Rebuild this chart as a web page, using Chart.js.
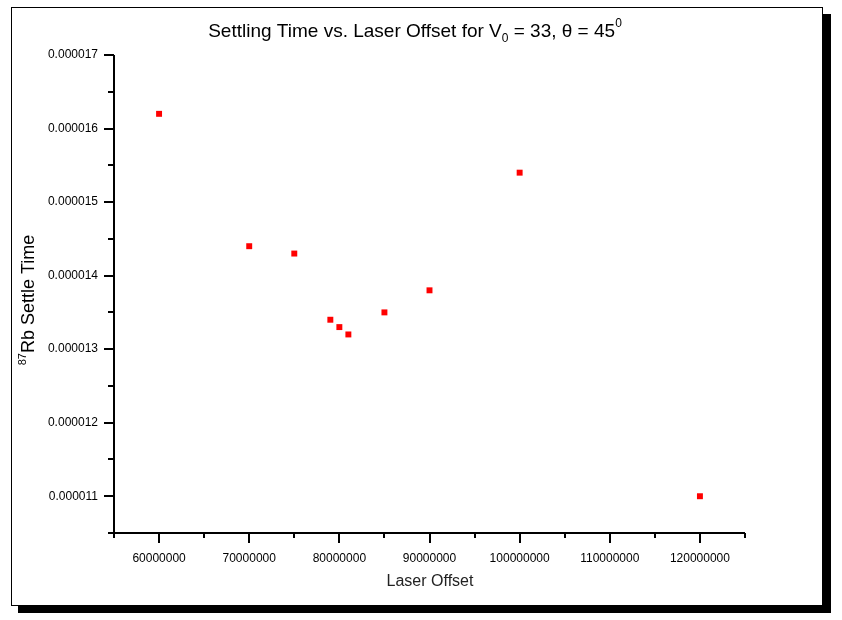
<!DOCTYPE html>
<html>
<head>
<meta charset="utf-8">
<script src="https://cdn.jsdelivr.net/npm/chart.js@4.4.1/dist/chart.umd.min.js"></script>
<style>
    html, body { margin: 0; padding: 0; background: #fff; }
    #wrap { width: 842px; height: 620px; position: relative; }
</style>
</head>
<body>
<div id="wrap"><canvas id="settleChart" width="842" height="620"></canvas></div>
<script>
// Data
const laserOffset = [60000000, 70000000, 75000000, 79000000, 80000000, 81000000, 85000000, 90000000, 100000000, 120000000];
const settleTime = [0.00001620, 0.00001440, 0.00001430, 0.00001340, 0.00001330, 0.00001320, 0.00001350, 0.00001380, 0.00001540, 0.00001100];

const xRange = [55000000, 125000000];
const xStep = 5000000;
const yRange = [0.0000105, 0.000017];
const yStep = 0.0000005;

const FONT = "'Liberation Sans', Arial, sans-serif";

// draw a run of text pieces [text, size, yShift] starting centred on cx
function drawRuns(ctx, parts, cx, baseY) {
    let total = 0;
    parts.forEach(p => { ctx.font = p[1] + 'px ' + FONT; total += ctx.measureText(p[0]).width; });
    let x = cx - total / 2;
    parts.forEach(p => {
        ctx.font = p[1] + 'px ' + FONT;
        ctx.fillText(p[0], x, baseY + p[2]);
        x += ctx.measureText(p[0]).width;
    });
}

// frame, shadow, axes with major/minor ticks, titles
const originStyle = {
    id: 'originStyle',
    beforeDraw(chart) {
        const ctx = chart.ctx;
        ctx.save();
        ctx.fillStyle = '#000';
        ctx.fillRect(18, 605, 813, 8);   // drop shadow bottom
        ctx.fillRect(822, 14, 9, 599);   // drop shadow right
        ctx.fillStyle = '#fff';
        ctx.fillRect(11, 7, 811, 598);
        ctx.strokeStyle = '#000';
        ctx.lineWidth = 1;
        ctx.strokeRect(11.5, 7.5, 811, 598);
        ctx.restore();
    },
    afterDraw(chart) {
        const ctx = chart.ctx;
        const area = chart.chartArea;
        const xs = chart.scales.x, ys = chart.scales.y;
        ctx.save();
        ctx.strokeStyle = '#000';
        ctx.lineWidth = 2;
        ctx.beginPath();
        ctx.moveTo(area.left, area.top);
        ctx.lineTo(area.left, area.bottom);
        ctx.lineTo(area.right, area.bottom);
        ctx.stroke();

        ctx.beginPath();
        xs.ticks.forEach(t => {
            const px = Math.round(xs.getPixelForValue(t.value));
            const major = Math.round(t.value / xStep) % 2 === 0;
            ctx.moveTo(px, area.bottom);
            ctx.lineTo(px, area.bottom + (major ? 10 : 5));
        });
        ys.ticks.forEach(t => {
            const py = Math.round(ys.getPixelForValue(t.value));
            const major = Math.round(t.value / yStep) % 2 === 0;
            ctx.moveTo(area.left, py);
            ctx.lineTo(area.left - (major ? 10 : 6), py);
        });
        ctx.stroke();

        ctx.fillStyle = '#000';
        ctx.textBaseline = 'alphabetic';
        ctx.textAlign = 'left';
        drawRuns(ctx, [
            ['Settling Time vs. Laser Offset for V', 19, 0],
            ['0', 12, 5],
            [' = 33, \u03b8 = 45', 19, 0],
            ['0', 12, -10]
        ], 415, 37);

        ctx.fillStyle = '#222';
        drawRuns(ctx, [['Laser Offset', 16, 0]], 430, 586);

        // y axis title
        ctx.fillStyle = '#000';
        ctx.translate(34, 300);
        ctx.rotate(-Math.PI / 2);
        drawRuns(ctx, [['87', 11, -8], ['Rb Settle Time', 18, 0]], 0, 0);
        ctx.restore();
    }
};

const ctx = document.getElementById('settleChart').getContext('2d');
new Chart(ctx, {
    type: 'scatter',
    data: {
        datasets: [{
            label: 'Settle Time',
            data: laserOffset.map((v, i) => ({ x: v, y: settleTime[i] })),
            backgroundColor: '#ff0000',
            borderWidth: 0,
            pointStyle: 'rect',
            pointRadius: 4.2
        }]
    },
    options: {
        responsive: false,
        animation: false,
        devicePixelRatio: 1,
        layout: { padding: { left: 0, top: 55, right: 97, bottom: 47 } },
        plugins: {
            legend: { display: false },
            tooltip: { enabled: false },
            title: { display: false }
        },
        scales: {
            x: {
                type: 'linear',
                min: xRange[0],
                max: xRange[1],
                afterFit: s => { s.height = 40; },
                grid: { display: true, drawOnChartArea: false, drawTicks: true, tickLength: 10, color: 'rgba(0,0,0,0)' },
                border: { display: false },
                ticks: {
                    stepSize: xStep,
                    autoSkip: false,
                    maxRotation: 0,
                    padding: 8,
                    color: '#000',
                    font: { family: FONT, size: 12 },
                    callback: v => (Math.round(v / xStep) % 2 === 0 ? String(Math.round(v)) : '')
                }
            },
            y: {
                type: 'linear',
                min: yRange[0],
                max: yRange[1],
                afterFit: s => { s.width = 114; },
                grid: { display: true, drawOnChartArea: false, drawTicks: true, tickLength: 10, color: 'rgba(0,0,0,0)' },
                border: { display: false },
                ticks: {
                    stepSize: yStep,
                    autoSkip: false,
                    padding: 6,
                    color: '#000',
                    font: { family: FONT, size: 12 },
                    callback: v => (Math.round(v / yStep) % 2 === 0 ? v.toFixed(6) : '')
                }
            }
        }
    },
    plugins: [originStyle]
});
</script>
</body>
</html>
